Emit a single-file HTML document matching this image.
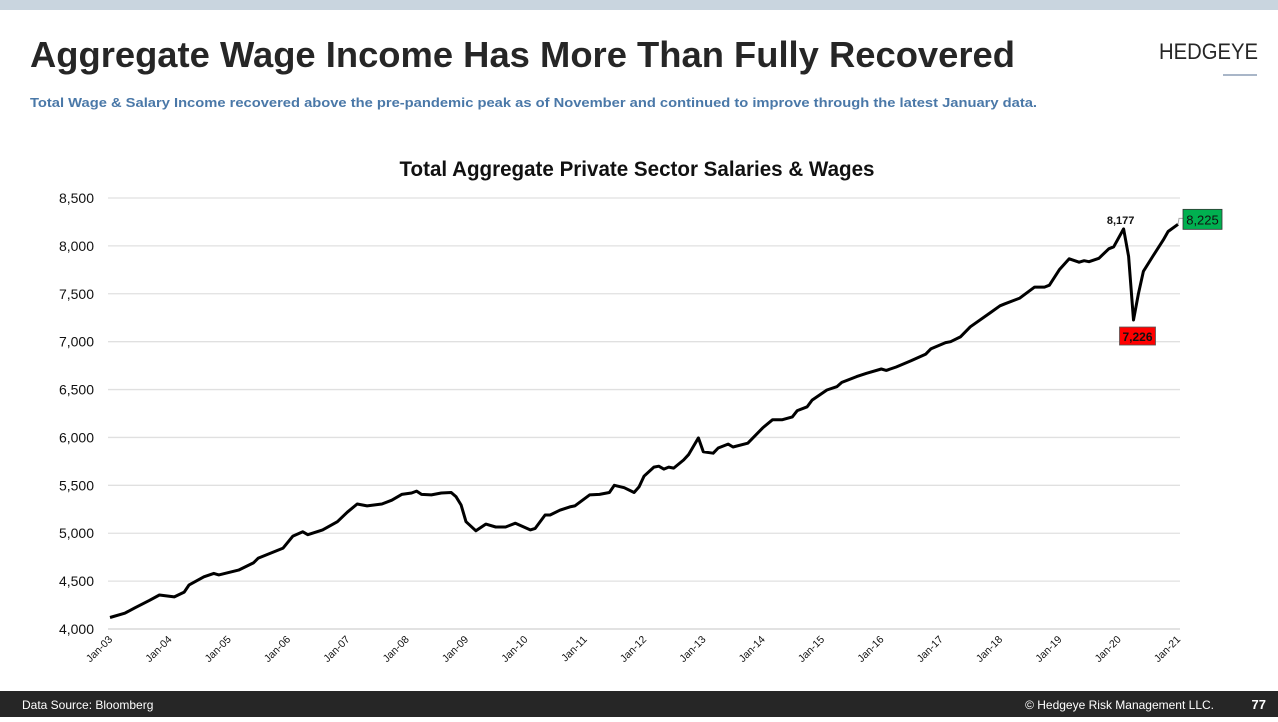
<!DOCTYPE html>
<html><head><meta charset="utf-8"><style>
html,body{margin:0;padding:0;background:#fff;}
body{width:1278px;height:717px;overflow:hidden;position:relative;font-family:"Liberation Sans",sans-serif;}
</style></head><body>
<svg width="1278" height="717" viewBox="0 0 1278 717" xmlns="http://www.w3.org/2000/svg">
<rect x="0" y="0" width="1278" height="10" fill="#c9d5df"/>
<text x="30" y="67" font-size="36" font-weight="bold" fill="#262626" textLength="985" lengthAdjust="spacingAndGlyphs">Aggregate Wage Income Has More Than Fully Recovered</text>
<text x="1159" y="59" font-size="22" fill="#262626" textLength="99" lengthAdjust="spacingAndGlyphs">HEDGEYE</text>
<rect x="1223" y="74" width="34" height="2" fill="#a9b6c8"/>
<text x="30" y="107" font-size="13" font-weight="bold" fill="#4a78a8" textLength="1007" lengthAdjust="spacingAndGlyphs">Total Wage &amp; Salary Income recovered above the pre-pandemic peak as of November and continued to improve through the latest January data.</text>
<text x="637" y="176" font-size="21" font-weight="bold" fill="#111" text-anchor="middle" textLength="475" lengthAdjust="spacingAndGlyphs">Total Aggregate Private Sector Salaries &amp; Wages</text>
<g id="grid"></g><g id="yt"></g><g id="xt"></g>
<path id="line" fill="none" stroke="#000" stroke-width="3" stroke-linejoin="round"/>
<g id="ann"></g>
<rect x="0" y="691" width="1278" height="26" fill="#262626"/>
<text x="22" y="709" font-size="12" fill="#fff">Data Source: Bloomberg</text>
<text x="1214" y="709" font-size="12" fill="#fff" text-anchor="end">© Hedgeye Risk Management LLC.</text>
<text x="1266" y="709" font-size="13" font-weight="bold" fill="#fff" text-anchor="end">77</text>
</svg>
<script>
const yTicks=[4000,4500,5000,5500,6000,6500,7000,7500,8000,8500];
const xLabels=["Jan-03","Jan-04","Jan-05","Jan-06","Jan-07","Jan-08","Jan-09","Jan-10","Jan-11","Jan-12","Jan-13","Jan-14","Jan-15","Jan-16","Jan-17","Jan-18","Jan-19","Jan-20","Jan-21"];
const months=[0,3,5,8,10,13,15,16,19,21,22,26,29,30,35,37,39,40,43,46,48,50,52,55,57,59,61,62,63,65,67,69,70,71,72,74,76,78,80,82,85,86,88,89,91,93,94,97,99,101,102,104,106,107,108,110,111,112,113,114,116,117,119,120,122,123,125,126,129,132,134,136,138,139,141,142,145,147,148,151,153,156,157,159,162,165,166,169,170,172,174,178,180,181,184,187,189,190,192,194,196,197,198,200,202,203,205,206,207,208,209,211,213,214,216];
const values=[4120,4165,4220,4300,4355,4335,4385,4460,4545,4580,4565,4615,4690,4740,4845,4970,5015,4985,5035,5120,5220,5305,5285,5305,5345,5405,5420,5440,5405,5400,5420,5425,5380,5295,5120,5025,5095,5065,5065,5105,5035,5050,5190,5190,5240,5275,5285,5400,5405,5425,5500,5475,5425,5485,5595,5690,5700,5670,5690,5680,5765,5820,5995,5850,5835,5890,5930,5900,5940,6100,6185,6185,6215,6280,6320,6390,6495,6530,6575,6635,6670,6715,6700,6735,6800,6870,6925,6990,7000,7050,7155,7300,7375,7395,7455,7570,7570,7590,7750,7865,7830,7845,7835,7870,7970,7990,8177,7890,7226,7500,7735,7900,8060,8150,8225];
const X0=110,X1=1178,Y0=629,Y1=198;
const xs=m=>X0+(X1-X0)*m/216;
const ys=v=>Y0-(Y0-Y1)*(v-4000)/4500;
const NS="http://www.w3.org/2000/svg";
function mk(t,a,p){const e=document.createElementNS(NS,t);for(const k in a)e.setAttribute(k,a[k]);p.appendChild(e);return e;}
const grid=document.getElementById('grid'),yt=document.getElementById('yt'),xt=document.getElementById('xt');
yTicks.forEach(v=>{
 const l=mk('line',{x1:108,x2:1180,y1:ys(v),y2:ys(v),stroke:v===4000?'#d0d0d0':'#e0e0e0','stroke-width':1.3},grid);
 
 
 const t=mk('text',{x:94,y:ys(v)+5,'font-size':14,fill:'#111','text-anchor':'end'},yt);
 t.textContent=v.toLocaleString('en-US');
 
 
});
xLabels.forEach((s,i)=>{
 const x=xs(i*12);
 const t=mk('text',{x:x+3,y:640,'font-size':10.5,fill:'#111','text-anchor':'end',transform:`rotate(-45 ${x+3} 640)`},xt);
 t.textContent=s;
 
 
});
document.getElementById('line').setAttribute('d',months.map((m,i)=>(i?'L':'M')+xs(m).toFixed(1)+','+ys(values[i]).toFixed(1)).join(''));
const ann=document.getElementById('ann');
let tr=-1;values.forEach((v,i)=>{if(months[i]>180&&(tr<0||v<values[tr]))tr=i;});
let pk=0;values.forEach((v,i)=>{if(i<tr&&v>values[pk])pk=i;});
const last=values.length-1;
const pt=mk('text',{x:xs(months[pk])-3,y:ys(values[pk])-5,'font-size':11,'font-weight':'bold',fill:'#111','text-anchor':'middle'},ann);
pt.textContent=values[pk].toLocaleString('en-US');


const tx=xs(months[tr])+4,ty=ys(values[tr])+7;
const rb=mk('rect',{x:tx-18,y:ty,width:36,height:18,fill:'#ff0000',stroke:'#555','stroke-width':0.8},ann);


const rt=mk('text',{x:tx,y:ty+14,'font-size':12,'font-weight':'bold',fill:'#111','text-anchor':'middle'},ann);
rt.textContent=values[tr].toLocaleString('en-US');


const lx=xs(months[last]),ly=ys(values[last]);
const cn=mk('polyline',{points:`${lx},${ly} ${lx+1},${ly-6} ${lx+5},${ly-6}`,fill:'none',stroke:'#aaa','stroke-width':1},ann);


const gb=mk('rect',{x:lx+5,y:ly-15,width:39,height:20,fill:'#00b050',stroke:'#333','stroke-width':0.8},ann);


const gt=mk('text',{x:lx+24.5,y:ly,'font-size':13,fill:'#111','text-anchor':'middle'},ann);
gt.textContent=values[last].toLocaleString('en-US');


</script>
</body></html>
